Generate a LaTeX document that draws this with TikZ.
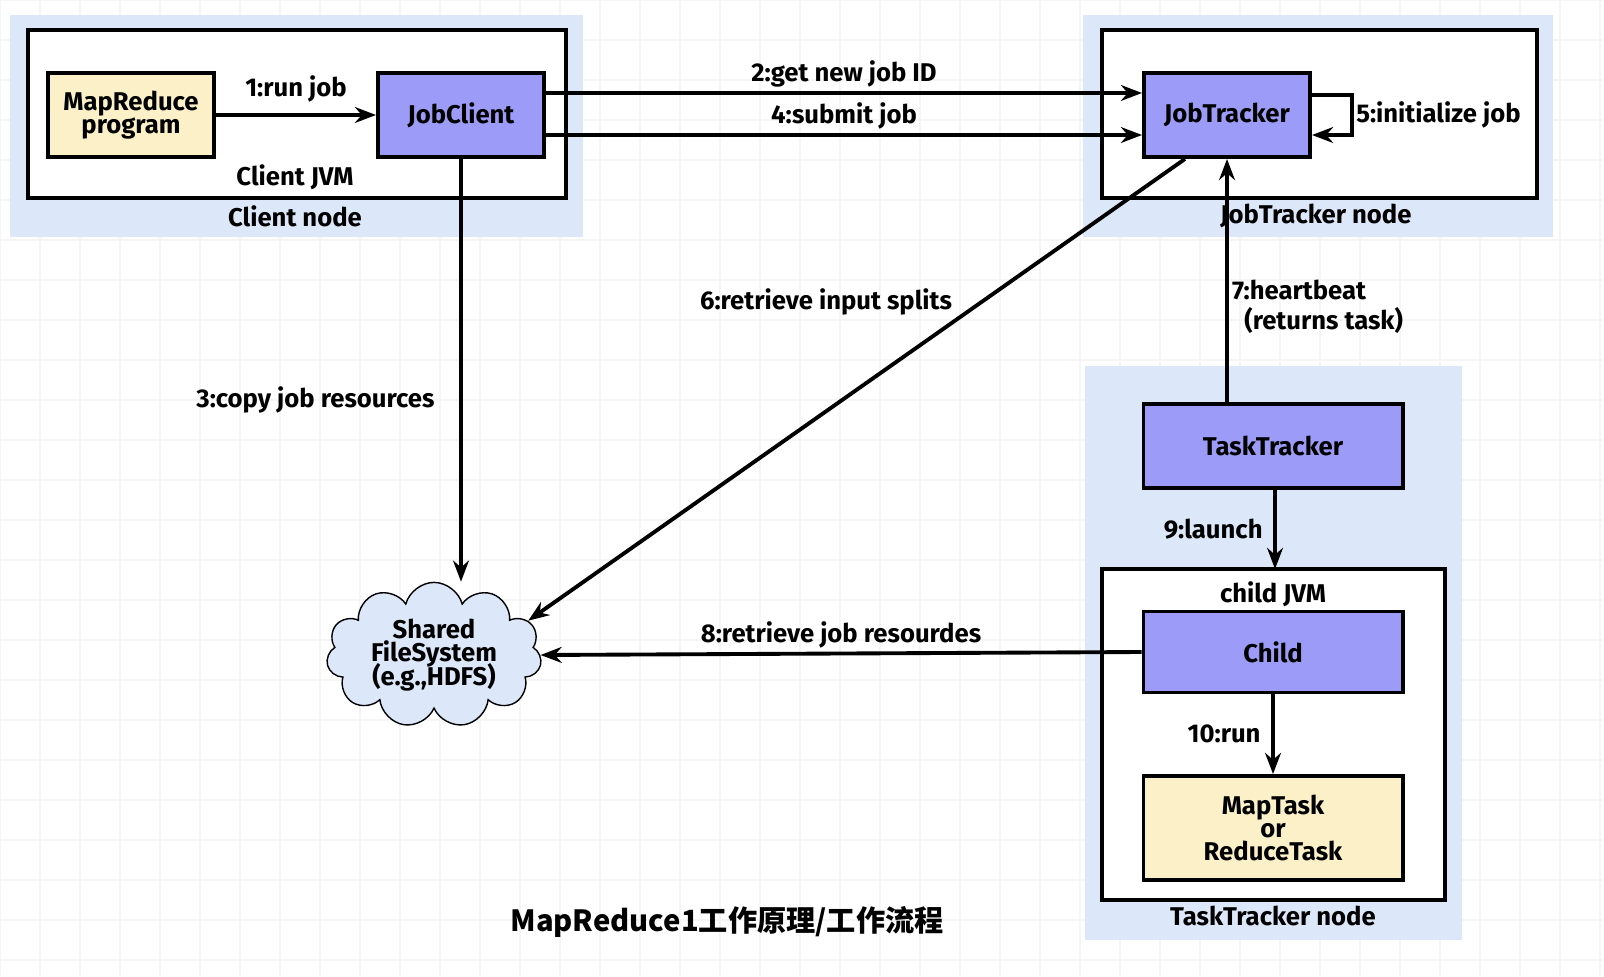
\documentclass[tikz,border=0pt]{standalone}
\usepackage{fontspec}
\setmainfont{Fira Sans}
\newfontfamily\cjk{Noto Sans CJK SC}
\usetikzlibrary{shapes.symbols,arrows.meta}
\definecolor{nodebg}{HTML}{DCE8FA}
\definecolor{jvmblue}{HTML}{9C9CF8}
\definecolor{taskyellow}{HTML}{FCF0C8}
\newcommand{\lblfont}{\fontsize{7.3}{8.6}\fontseries{sb}\selectfont}
\tikzset{
  area/.style={fill=nodebg,draw=none},
  jvm/.style={draw=black,line width=1.1pt,fill=white},
  proc/.style={draw=black,line width=1.1pt,fill=jvmblue,minimum width=1.66cm,minimum height=0.84cm,font=\lblfont},
  task/.style={draw=black,line width=1.1pt,fill=taskyellow,align=center,font=\lblfont},
  flow/.style={-{Stealth[length=6pt]},line width=1.1pt},
  lbl/.style={font=\lblfont,inner sep=1pt}
}
\begin{document}
\begin{tikzpicture}[x=0.01cm,y=-0.01cm]
  \fill[white] (0,0) rectangle (1604,976);
  \foreach \g in {0,40,...,1600} {\draw[gray!8] (\g,0) -- (\g,976);}
  \foreach \g in {0,40,...,960} {\draw[gray!8] (0,\g) -- (1604,\g);}
  % node areas
  \fill[area] (10,15) rectangle (583,237);
  \fill[area] (1083,15) rectangle (1553,237);
  \fill[area] (1085,366) rectangle (1462,940);
  \draw[jvm] (28,30) rectangle (566,198);
  \draw[jvm] (1102,30) rectangle (1537,198);
  \draw[jvm] (1102,569) rectangle (1445,900);
  \node[lbl] at (295,177) {Client JVM};
  \node[lbl] at (295,216) {Client node};
  \node[lbl] at (1316,216) {JobTracker node};
  \node[lbl] at (1273,594) {child JVM};
  \node[lbl] at (1273,916) {TaskTracker node};
  % boxes
  \node[task,minimum width=1.66cm,minimum height=0.84cm] (prog) at (131,115) {MapReduce\\[-2pt]program};
  \node[proc] (client) at (461,115) {JobClient};
  \node[proc] (tracker) at (1227,115) {JobTracker};
  \node[proc,minimum width=2.59cm] (tt) at (1273,446) {TaskTracker};
  \node[proc,minimum width=2.59cm,minimum height=0.81cm] (child) at (1273,652) {Child};
  \node[task,minimum width=2.59cm,minimum height=1.04cm] (maptask) at (1273,828) {MapTask\\[-2pt]or\\[-2pt]ReduceTask};
  \node[cloud,draw=black,fill=nodebg,cloud puffs=11,aspect=1.6,minimum width=2.15cm,minimum height=1.4cm,align=center,font=\lblfont,inner sep=0pt] (hdfs) at (434,655) {Shared\\[-2pt]FileSystem\\[-2pt](e.g.,HDFS)};
  \coordinate (jvmtop) at (1275,569);
  \coordinate (loopa) at (1352,95);
  \coordinate (loopb) at (1352,135);
  % connectors
  \draw[flow] (prog) -- (client) node[lbl,midway,above=2pt] {1:run job};
  \draw[flow] ([yshift=0.22cm]client.east) -- ([yshift=0.22cm]tracker.west) node[lbl,midway,above] {2:get new job ID};
  \draw[flow] ([yshift=-0.2cm]client.east) -- ([yshift=-0.2cm]tracker.west) node[lbl,midway,above] {4:submit job};
  \draw[flow] ([yshift=0.2cm]tracker.east) -- (loopa) -- (loopb) -- ([yshift=-0.2cm]tracker.east);
  \node[lbl,right] at (loopa |- tracker.east) {5:initialize job};
  \draw[flow] (client.south) -- (client.south |- hdfs.north) node[lbl,pos=0.57,left=6pt] {3:copy job resources};
  \draw[flow] ([xshift=-0.42cm]tracker.south) -- (hdfs.20);
  \node[lbl] at (826,302) {6:retrieve input splits};
  \draw[flow] (tt.north -| tracker.south) -- (tracker.south);
  \node[lbl,right,align=left] at (1228,307) {7:heartbeat\\\ \ (returns task)};
  \draw[flow] (tt.south -| jvmtop) -- (jvmtop) node[lbl,midway,left=2pt] {9:launch};
  \draw[flow] (child.west) -- (hdfs.east) node[lbl,midway,above] {8:retrieve job resourdes};
  \draw[flow] (child.south) -- (maptask.north) node[lbl,midway,left=2pt] {10:run};
  \node[font=\cjk\bfseries\fontsize{8.3}{10}\selectfont] (title) at (727,922) {MapReduce1工作原理/工作流程};
  \pgfresetboundingbox
  \useasboundingbox (0,0) rectangle (1604,976);
\end{tikzpicture}
\end{document}
